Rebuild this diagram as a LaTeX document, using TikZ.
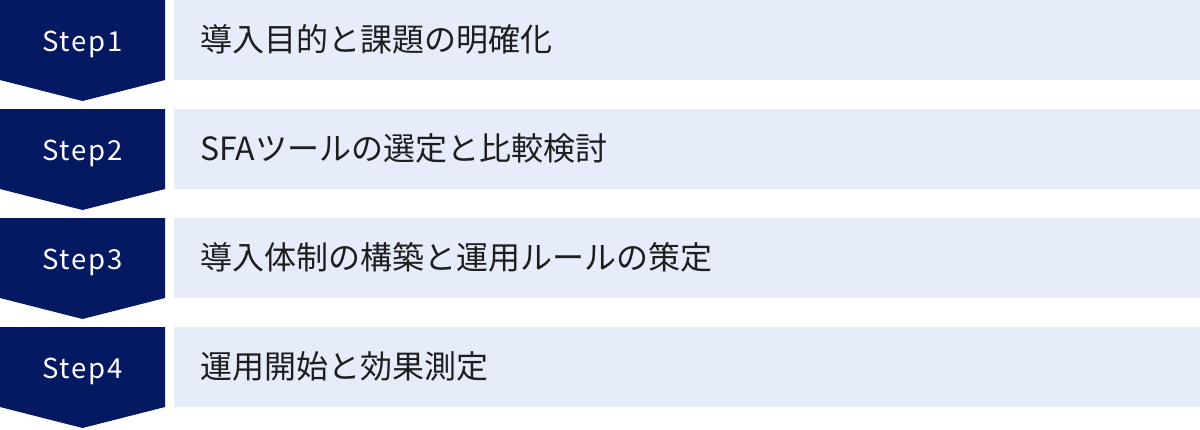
\documentclass[tikz,border=0pt]{standalone}
\usepackage{fontspec}
\setmainfont{Noto Sans CJK JP}
\newfontfamily\stepfont[LetterSpace=7]{Noto Sans CJK JP}
\definecolor{stepnavy}{RGB}{5,24,98}
\definecolor{rowblue}{RGB}{230,236,250}
\definecolor{rowtext}{RGB}{30,30,30}

\begin{document}
\begin{tikzpicture}[x=1pt,y=-1pt,
    steplabel/.style={anchor=base,inner sep=0pt,white,font=\stepfont\fontsize{27.5}{32}\selectfont},
    rowlabel/.style={anchor=base west,inner sep=0pt,rowtext,font=\fontsize{32}{38}\selectfont}]
    \useasboundingbox (0,0) rectangle (1200,429);

    % Step1
    \fill[stepnavy] (0,0) -- (165,0) -- (165,80) -- (82.5,101) -- (0,80) -- cycle;
    \fill[rowblue] (174,0) rectangle (1200,80);
    \node[steplabel] (s1) at (82.5,51) {Step1};
    \node[rowlabel] (t1) at (200,51) {導入目的と課題の明確化};

    % Step2
    \fill[stepnavy] (0,109) -- (165,109) -- (165,189) -- (82.5,210) -- (0,189) -- cycle;
    \fill[rowblue] (174,109) rectangle (1200,189);
    \node[steplabel] (s2) at (82.5,160) {Step2};
    \node[rowlabel] (t2) at (200,160) {SFAツールの選定と比較検討};

    % Step3
    \fill[stepnavy] (0,218) -- (165,218) -- (165,298) -- (82.5,319) -- (0,298) -- cycle;
    \fill[rowblue] (174,218) rectangle (1200,298);
    \node[steplabel] (s3) at (82.5,269) {Step3};
    \node[rowlabel] (t3) at (200,269) {導入体制の構築と運用ルールの策定};

    % Step4
    \fill[stepnavy] (0,327) -- (165,327) -- (165,407) -- (82.5,428) -- (0,407) -- cycle;
    \fill[rowblue] (174,327) rectangle (1200,407);
    \node[steplabel] (s4) at (82.5,378) {Step4};
    \node[rowlabel] (t4) at (200,378) {運用開始と効果測定};
\end{tikzpicture}
\end{document}
